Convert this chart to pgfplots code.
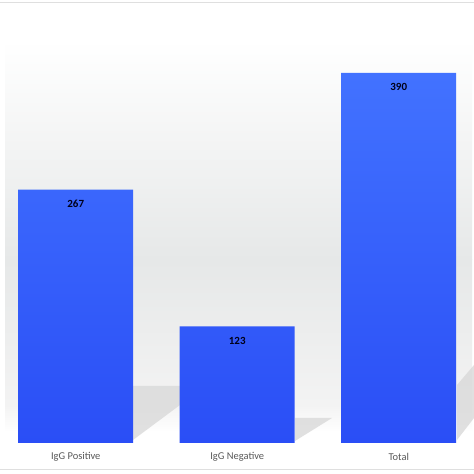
\documentclass[border=0pt]{standalone}
\usepackage{pgfplots}
\pgfplotsset{compat=1.18}
\usepackage{fontspec}
\setmainfont{Carlito}
\definecolor{bartop}{HTML}{4272FF}
\definecolor{barbot}{HTML}{2A4EF6}
\definecolor{lbl}{HTML}{595959}
\definecolor{bgmid}{HTML}{E6E8E8}
\definecolor{bglow}{HTML}{F3F3F3}
\definecolor{shadow}{HTML}{D9D9D9}

\begin{document}
\begin{tikzpicture}
% page frame, background and floor shadows, in pixel units of the reference
\begin{scope}[x=1bp, y=-1bp, shift={(0,474bp)}]
  \useasboundingbox (0,0) rectangle (474,474);
  \fill[white] (0,0) rectangle (474,474);
  \fill[top color=white, bottom color=bgmid] (5,40) rectangle (472,260);
  \fill[top color=bgmid, bottom color=bglow] (5,260) rectangle (472,405);
  \fill[top color=bglow, bottom color=white] (5,405) rectangle (472,432);
  \draw[gray!25, line width=1bp] (0,3) -- (474,3);
  \draw[gray!25, line width=1bp] (0,470) -- (474,470);
  \fill[shadow, fill opacity=0.8] (133,440) -- (133,386) -- (180,386) -- (180,405) -- cycle;
  \fill[shadow, fill opacity=0.8] (295,441) -- (295,418) -- (332,418) -- cycle;
  \fill[shadow, fill opacity=0.8] (457,440) -- (457,385) -- (474,365) -- (474,418) -- cycle;
\end{scope}

\begin{axis}[
    at={(0,0)}, anchor=south west,
    scale only axis,
    width=474bp, height=474bp,
    axis line style={draw=none},
    tick style={draw=none},
    xmin=-0.469, xmax=2.466,
    ymin=-32.68, ymax=466.95,
    xtick={0,1,2},
    xticklabels={IgG Positive, IgG Negative, Total},
    xticklabel style={anchor=center, yshift=17bp, font=\fontsize{10.5}{12}\selectfont, text=lbl},
    ytick=\empty,
    clip=false,
    /pgf/number format/assume math mode=true,
]
\addplot[ybar, bar width=115bp, draw=none, top color=bartop, bottom color=barbot,
    nodes near coords,
    every node near coord/.append style={anchor=north, yshift=-7bp,
        font=\fontsize{11}{13}\selectfont\bfseries, text=black!90!blue}]
    coordinates {(0,267) (1,123) (2,390)};
\end{axis}
\end{tikzpicture}
\end{document}
